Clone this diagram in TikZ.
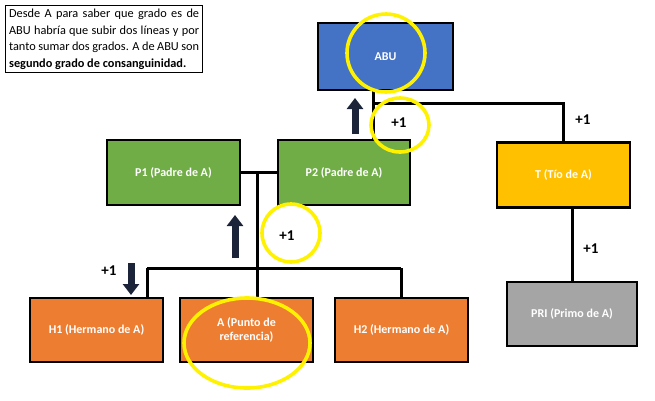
\documentclass[tikz,border=0pt]{standalone}
\usepackage{fontspec}
\setmainfont{Carlito}
\usetikzlibrary{arrows.meta}
\definecolor{abublue}{HTML}{4472C4}
\definecolor{pgreen}{HTML}{70AD47}
\definecolor{tyellow}{HTML}{FFC000}
\definecolor{prigrey}{HTML}{A5A5A5}
\definecolor{horange}{HTML}{ED7D31}
\definecolor{navy}{HTML}{1B2438}
\definecolor{mark}{HTML}{FFF200}
\tikzset{
  famblock/.style={draw, line width=2.6pt, text=white, font=\fontsize{12}{14}\selectfont\bfseries, align=center, inner sep=1pt},
  link/.style={line width=3pt},
  steparrow/.style={line width=7pt, navy, -{Triangle[width=16pt,length=11pt]}},
  ring/.style={draw=mark, line width=3.6pt},
  plusone/.style={font=\fontsize{15}{17}\selectfont\bfseries}
}
\begin{document}
\begin{tikzpicture}[x=1pt, y=-1pt]
    \useasboundingbox (0,0) rectangle (655,400);
    % text box
    \node[draw, line width=1.2pt, anchor=north west, inner sep=3.5pt] (note) at (5,5)
      {\parbox{190pt}{\fontsize{12.3}{16.5}\selectfont\hyphenpenalty=10000 Desde A para saber que grado es de ABU habría que subir dos líneas y por tanto sumar dos grados. A de ABU son \textbf{segundo grado de consanguinidad.}}};
    % family blocks
    \node[famblock, fill=abublue, minimum width=135pt, minimum height=67pt] (ABU) at (385.5,56.5) {ABU};
    \node[famblock, fill=pgreen, minimum width=133pt, minimum height=65pt] (P1) at (173.5,172.5) {P1 (Padre de A)};
    \node[famblock, fill=pgreen, minimum width=132pt, minimum height=65pt] (P2) at (344,172.5) {P2 (Padre de A)};
    \node[famblock, fill=tyellow, minimum width=133pt, minimum height=65pt] (T) at (563.5,175) {T (Tío de A)};
    \node[famblock, fill=prigrey, minimum width=130pt, minimum height=64pt] (PRI) at (572,314) {PRI (Primo de A)};
    \node[famblock, fill=horange, minimum width=133pt, minimum height=64pt] (H1) at (96.5,330) {H1 (Hermano de A)};
    \node[famblock, fill=horange, minimum width=133pt, minimum height=64pt] (A) at (246.5,330) {A (Punto de\\referencia)};
    \node[famblock, fill=horange, minimum width=133pt, minimum height=64pt] (H2) at (401.5,330) {H2 (Hermano de A)};
    % joints
    \coordinate (abu-j) at (373,103);
    \coordinate (t-j) at (563.5,103);
    \coordinate (p-j) at (257,172.5);
    \coordinate (h-j) at (257,268);
    \coordinate (h1-j) at (147,268);
    \coordinate (h2-j) at (401,268);
    % links
    \draw[link] (ABU.south -| abu-j) -- (P2.north -| abu-j);
    \draw[link] (abu-j) -- (t-j) -- (T.north);
    \draw[link] (T.south -| PRI.north) -- (PRI.north);
    \draw[link] (P1.east) -- (P2.west);
    \draw[link] (p-j) -- (A.north -| p-j);
    \draw[link] (h1-j) -- (h2-j);
    \draw[link] (h1-j) -- (H1.north -| h1-j);
    \draw[link] (h2-j) -- (H2.north -| h2-j);
    % steps
    \coordinate (s1a) at (355,134);
    \coordinate (s1b) at (355,98);
    \coordinate (s2a) at (235,258);
    \coordinate (s2b) at (235,215);
    \coordinate (s3a) at (131,263);
    \coordinate (s3b) at (131,295);
    \draw[steparrow] (s1a) -- (s1b);
    \draw[steparrow] (s2a) -- (s2b);
    \draw[steparrow] (s3a) -- (s3b);
    \node[plusone] (g1) at (399,123) {+1};
    \node[plusone] (g2) at (583,120) {+1};
    \node[plusone] (g3) at (287,236) {+1};
    \node[plusone] (g4) at (591,249) {+1};
    \node[plusone] (g5) at (109,271) {+1};
    % marks
    \draw[ring] (386,53) circle (39);
    \draw[ring] (400,125) ellipse (29 and 27);
    \draw[ring] (291,233) circle (29);
    \draw[ring] (247,343) ellipse (63 and 45);
\end{tikzpicture}
\end{document}
